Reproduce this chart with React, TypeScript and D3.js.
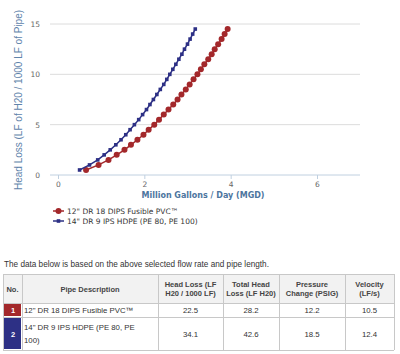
import React, { useRef, useEffect } from 'react';
import * as d3 from 'd3';

// head loss steps (LF H20 / 1000 LF) shared by both curves
const headLoss = [0.5, 1, 1.5, 2, 2.5, 3, 3.5, 4, 4.5, 5, 5.5, 6, 6.5, 7, 7.5, 8, 8.5, 9, 9.5, 10, 10.5, 11, 11.5, 12, 12.5, 13, 13.5, 14, 14.5];
// flow (MGD) for 12" DR 18 DIPS Fusible PVC
const flowPvc = [0.65, 0.94, 1.17, 1.36, 1.54, 1.69, 1.84, 1.98, 2.1, 2.23, 2.34, 2.45, 2.56, 2.67, 2.77, 2.86, 2.96, 3.05, 3.14, 3.23, 3.31, 3.39, 3.48, 3.56, 3.63, 3.71, 3.79, 3.86, 3.93];
// flow (MGD) for 14" DR 9 IPS HDPE
const flowHdpe = [0.5, 0.73, 0.92, 1.07, 1.21, 1.34, 1.46, 1.57, 1.67, 1.77, 1.87, 1.96, 2.05, 2.13, 2.21, 2.29, 2.37, 2.45, 2.52, 2.59, 2.66, 2.73, 2.8, 2.87, 2.93, 3.0, 3.06, 3.12, 3.18];

const seriesNames = ['12" DR 18 DIPS Fusible PVC™', '14" DR 9 IPS HDPE (PE 80, PE 100)'];
const seriesColors = ['#a3282b', '#2d3085'];

const xTicks = [0, 2, 4, 6];
const yTicks = [0, 5, 10, 15];

const tableHeaders = [['No.'], ['Pipe Description'], ['Head Loss (LF', 'H20 / 1000 LF)'], ['Total Head', 'Loss (LF H20)'], ['Pressure', 'Change (PSIG)'], ['Velocity', '(LF/s)']];
const rowDescriptions = [['12" DR 18 DIPS Fusible PVC™'], ['14" DR 9 IPS HDPE (PE 80, PE', '100)']];
const headLossCol = [22.5, 34.1];
const totalHeadCol = [28.2, 42.6];
const pressureCol = [12.2, 18.5];
const velocityCol = [10.5, 12.4];

const W = 400;
const H = 354;

const App = () => {
  const svgRef = useRef(null);

  useEffect(() => {
    const svg = d3.select(svgRef.current);
    svg.selectAll('*').remove();

    const font = 'DejaVu Sans, Verdana, sans-serif';
    const x = d3.scaleLinear().domain([0, 6]).range([58, 317]);
    const y = d3.scaleLinear().domain([0, 15]).range([175, 24]);
    const left = 50, right = 360;

    // grid
    svg.append('g')
      .selectAll('line')
      .data(yTicks.filter(d => d > 0))
      .join('line')
      .attr('x1', left).attr('x2', right)
      .attr('y1', d => y(d)).attr('y2', d => y(d))
      .attr('stroke', '#dcdcdc').attr('stroke-width', 1);

    svg.append('g')
      .selectAll('text')
      .data(yTicks)
      .join('text')
      .attr('x', 40).attr('y', d => y(d) + 3)
      .attr('text-anchor', 'end')
      .attr('font-family', font).attr('font-size', 7.5)
      .attr('fill', '#666')
      .text(d => d);

    // x axis
    const xAxis = d3.axisBottom(x).tickValues(xTicks).tickFormat(d3.format('d')).tickSize(4).tickPadding(3);
    const gx = svg.append('g')
      .attr('transform', `translate(0, ${y(0)})`)
      .call(xAxis);
    gx.select('.domain').remove();
    gx.append('line').attr('x1', left).attr('x2', right)
      .attr('stroke', '#c0d0e0');
    gx.selectAll('.tick line').attr('stroke', '#c0d0e0');
    gx.selectAll('.tick text')
      .attr('font-family', font).attr('font-size', 7.5).attr('fill', '#666');

    svg.append('text')
      .attr('x', 203).attr('y', 197.5)
      .attr('text-anchor', 'middle')
      .attr('font-family', font).attr('font-size', 8).attr('font-weight', 'bold')
      .attr('fill', '#4d759e')
      .text('Million Gallons / Day (MGD)');

    svg.append('text')
      .attr('transform', 'translate(21.5, 100) rotate(-90)')
      .attr('text-anchor', 'middle')
      .attr('font-family', 'Liberation Sans, Arial, sans-serif').attr('font-size', 10)
      .attr('fill', '#5f84ab')
      .text('Head Loss (LF of H20 / 1000 LF of Pipe)');

    // series
    const line = d3.line()
      .x(d => x(d[0]))
      .y(d => y(d[1]));

    const pvc = flowPvc.map((f, i) => [f, headLoss[i]]);
    const hdpe = flowHdpe.map((f, i) => [f, headLoss[i]]);

    svg.append('path').datum(pvc)
      .attr('fill', 'none').attr('stroke', seriesColors[0]).attr('stroke-width', 1.5)
      .attr('d', line);
    svg.append('g').selectAll('circle').data(pvc).join('circle')
      .attr('cx', d => x(d[0])).attr('cy', d => y(d[1])).attr('r', 3)
      .attr('fill', seriesColors[0]);

    svg.append('path').datum(hdpe)
      .attr('fill', 'none').attr('stroke', seriesColors[1]).attr('stroke-width', 1.5)
      .attr('d', line);
    svg.append('g').selectAll('rect').data(hdpe).join('rect')
      .attr('x', d => x(d[0]) - 1.8).attr('y', d => y(d[1]) - 1.8)
      .attr('width', 3.6).attr('height', 3.6)
      .attr('fill', seriesColors[1]);

    // legend
    const legend = svg.append('g');
    seriesNames.forEach((name, i) => {
      const ly = 211 + i * 10;
      legend.append('line').attr('x1', 53).attr('x2', 64).attr('y1', ly).attr('y2', ly)
        .attr('stroke', seriesColors[i]).attr('stroke-width', 1.5);
      if (i === 0) {
        legend.append('circle').attr('cx', 58.5).attr('cy', ly).attr('r', 3).attr('fill', seriesColors[i]);
      } else {
        legend.append('rect').attr('x', 56.7).attr('y', ly - 1.8).attr('width', 3.6).attr('height', 3.6).attr('fill', seriesColors[i]);
      }
      legend.append('text').attr('x', 67).attr('y', ly + 3)
        .attr('font-family', font).attr('font-size', 7.5).attr('fill', '#333')
        .text(name);
    });

    // note
    const tf = 'Liberation Sans, Arial, sans-serif';
    svg.append('text').attr('x', 4).attr('y', 267)
      .attr('font-family', tf).attr('font-size', 8.2).attr('fill', '#333')
      .text('The data below is based on the above selected flow rate and pipe length.');

    // table
    const colEdges = [3, 22, 158, 223, 279, 345, 394];
    const rowEdges = [274, 303, 317, 350];
    const tbl = svg.append('g');

    tbl.append('rect').attr('x', colEdges[0]).attr('y', rowEdges[0])
      .attr('width', colEdges[6] - colEdges[0]).attr('height', rowEdges[1] - rowEdges[0])
      .attr('fill', '#f2f2f2');

    seriesColors.forEach((c, i) => {
      tbl.append('rect').attr('x', colEdges[0] + 1).attr('y', rowEdges[i + 1] + 1)
        .attr('width', colEdges[1] - colEdges[0] - 2).attr('height', rowEdges[i + 2] - rowEdges[i + 1] - 2)
        .attr('fill', c);
    });

    rowEdges.forEach(r => {
      tbl.append('line').attr('x1', colEdges[0]).attr('x2', colEdges[6])
        .attr('y1', r + 0.5).attr('y2', r + 0.5).attr('stroke', '#c8c8c8');
    });
    colEdges.forEach(c => {
      tbl.append('line').attr('x1', c + 0.5).attr('x2', c + 0.5)
        .attr('y1', rowEdges[0]).attr('y2', rowEdges[3]).attr('stroke', '#c8c8c8');
    });

    tableHeaders.forEach((lines, j) => {
      const cx = (colEdges[j] + colEdges[j + 1]) / 2;
      const cy = (rowEdges[0] + rowEdges[1]) / 2;
      lines.forEach((t, k) => {
        tbl.append('text').attr('x', cx).attr('y', cy + 3 + (k - (lines.length - 1) / 2) * 9.5)
          .attr('text-anchor', 'middle')
          .attr('font-family', tf).attr('font-size', 7.5).attr('font-weight', 'bold').attr('fill', '#444')
          .text(t);
      });
    });

    const numberCols = [headLossCol, totalHeadCol, pressureCol, velocityCol];
    rowDescriptions.forEach((lines, i) => {
      const cy = (rowEdges[i + 1] + rowEdges[i + 2]) / 2;
      tbl.append('text').attr('x', (colEdges[0] + colEdges[1]) / 2 + 0.5).attr('y', cy + 3)
        .attr('text-anchor', 'middle')
        .attr('font-family', tf).attr('font-size', 7.5).attr('font-weight', 'bold').attr('fill', '#fff')
        .text(i + 1);
      lines.forEach((t, k) => {
        tbl.append('text').attr('x', colEdges[1] + 2).attr('y', cy + 3 + (k - (lines.length - 1) / 2) * 12.5)
          .attr('font-family', tf).attr('font-size', 7.8).attr('fill', '#333')
          .text(t);
      });
      numberCols.forEach((col, j) => {
        tbl.append('text').attr('x', (colEdges[j + 2] + colEdges[j + 3]) / 2).attr('y', cy + 3)
          .attr('text-anchor', 'middle')
          .attr('font-family', tf).attr('font-size', 7.8).attr('fill', '#333')
          .text(col[i].toFixed(1));
      });
    });
  }, []);

  return (
    <svg ref={svgRef} width={W} height={H}
      style={{ position: 'absolute', left: 0, top: 0, background: '#fff' }} />
  );
};

export default App;
